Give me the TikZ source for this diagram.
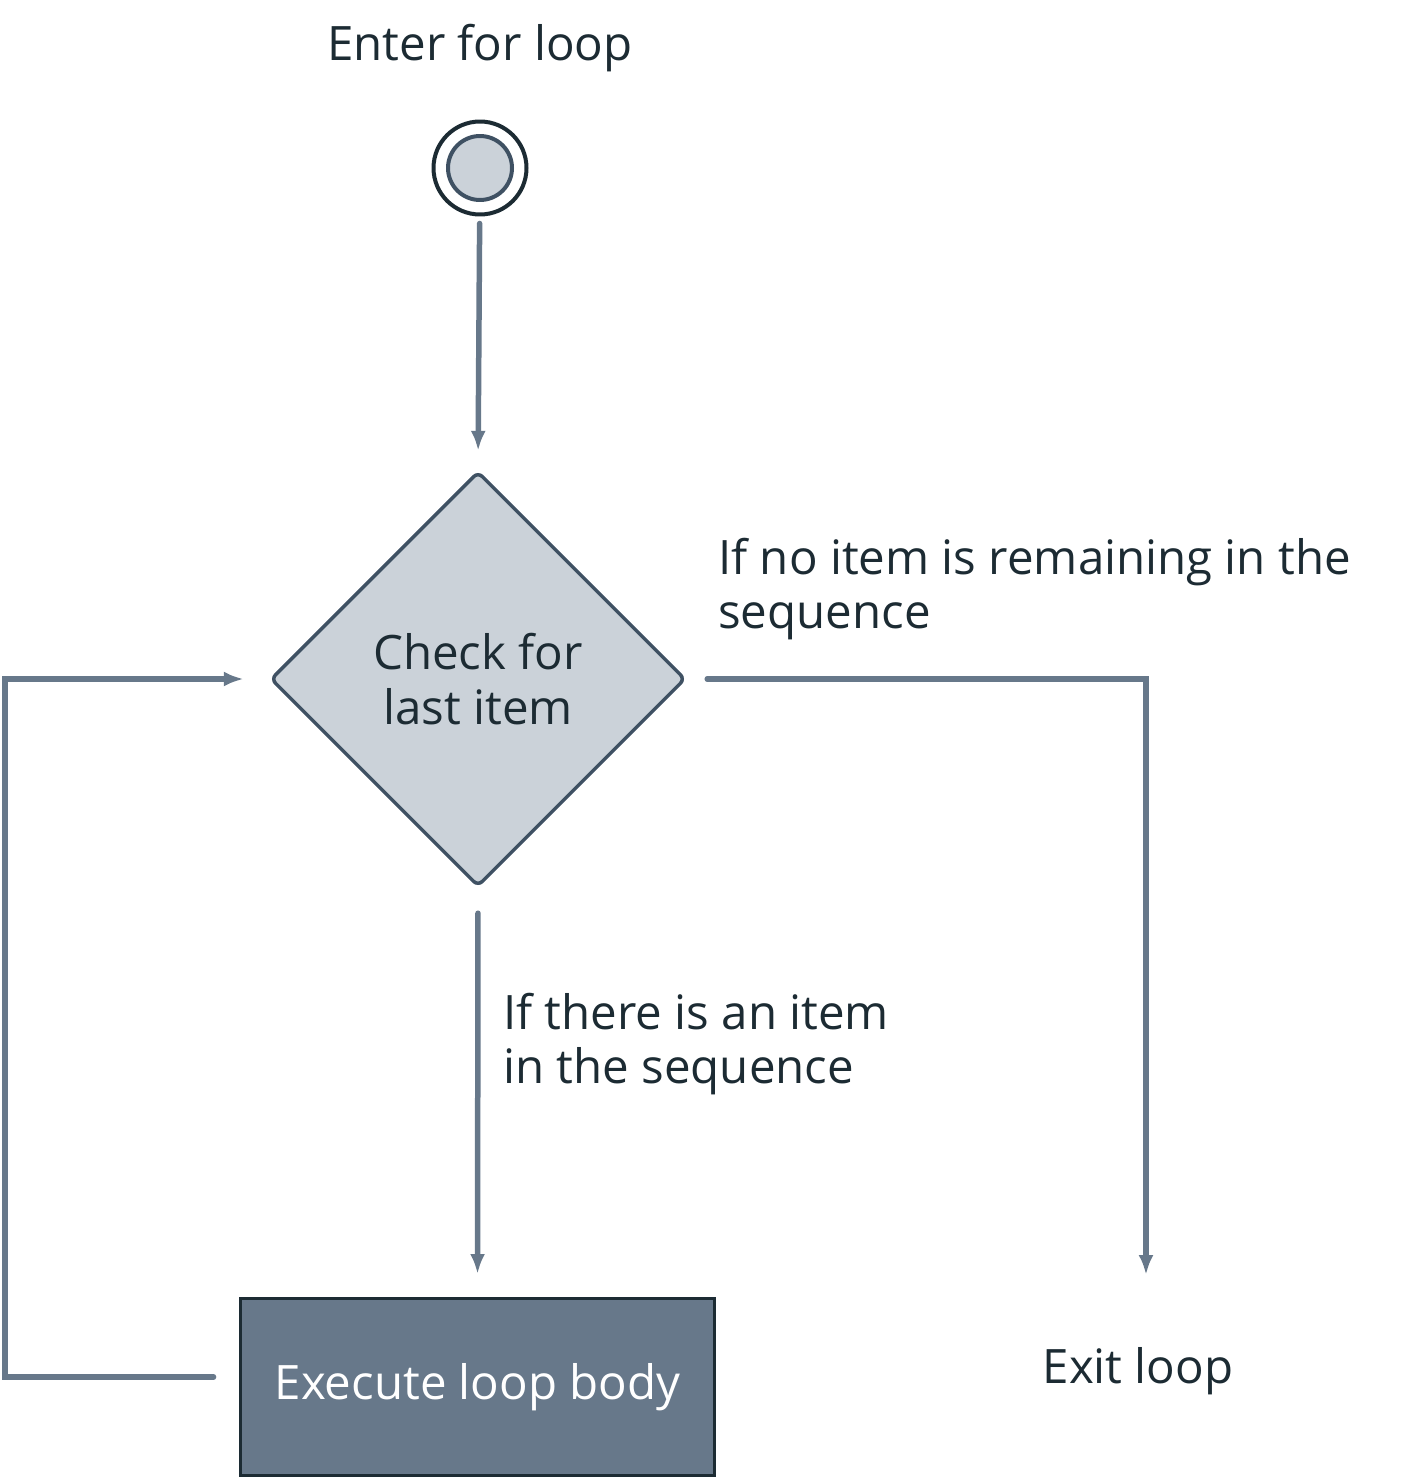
\documentclass[tikz,border=0pt]{standalone}
\usepackage{fontspec}
\setmainfont{Open Sans}
\usepackage{tikz}
\usetikzlibrary{shapes.geometric, arrows.meta}

\definecolor{inkdark}{HTML}{1C2B33}
\definecolor{flowline}{HTML}{67788A}
\definecolor{lightfill}{HTML}{CBD2D9}
\definecolor{edgeslate}{HTML}{3F5163}

\begin{document}
\begin{tikzpicture}[
    x=0.02cm, y=-0.02cm,
    txt/.style={font=\fontsize{27}{31}\selectfont, text=inkdark, inner sep=0pt},
    startring/.style={draw=inkdark, circle, line width=0.08cm, minimum size=1.86cm, inner sep=0pt, fill=white},
    startdot/.style={draw=edgeslate, circle, line width=0.08cm, minimum size=1.28cm, inner sep=0pt, fill=lightfill},
    decision/.style={draw=edgeslate, diamond, rounded corners=0.12cm, line width=0.07cm, minimum width=8.3cm, minimum height=8.3cm, inner sep=0pt, fill=lightfill, align=center, font=\fontsize{27}{31}\selectfont, text=inkdark},
    process/.style={draw=inkdark, rectangle, line width=0.06cm, minimum width=9.5cm, minimum height=3.54cm, fill=flowline, font=\fontsize{27}{31}\selectfont, text=white},
    arrow/.style={-{Latex[length=0.4cm,width=0.3cm]}, line width=0.11cm, draw=flowline, line cap=round}
]
\useasboundingbox (0,0) rectangle (1400,1477);

\node[txt] (entertxt) at (480,48) {Enter for loop};
\node[startring] (start) at (480,168) {};
\node[startdot] (startin) at (start) {};
\node[decision] (check) at (478,679) {Check for\\last item};
\node[process] (body) at (477.5,1387) {Execute loop body};
\node[txt, anchor=west, align=left] (nolbl) at (718,589) {If no item is remaining in the\\sequence};
\node[txt, anchor=west, align=left] (yeslbl) at (503,1044) {If there is an item\\in the sequence};
\node[txt] (exittxt) at (1138,1371) {Exit loop};

\coordinate (exitin) at (1146,1275);
\coordinate (loopleft) at (5,1377);

\draw[arrow, shorten <=0.14cm, shorten >=0.38cm] (start) -- (check.north);
\draw[arrow, shorten <=0.5cm, shorten >=0.46cm] (check.south) -- (body.north);
\draw[arrow, shorten <=0.4cm] (check.east) -| (exitin);
\draw[arrow, shorten <=0.5cm, shorten >=0.5cm] ([yshift=0.2cm]body.west) -| (loopleft) |- (check.west);
\end{tikzpicture}
\end{document}
